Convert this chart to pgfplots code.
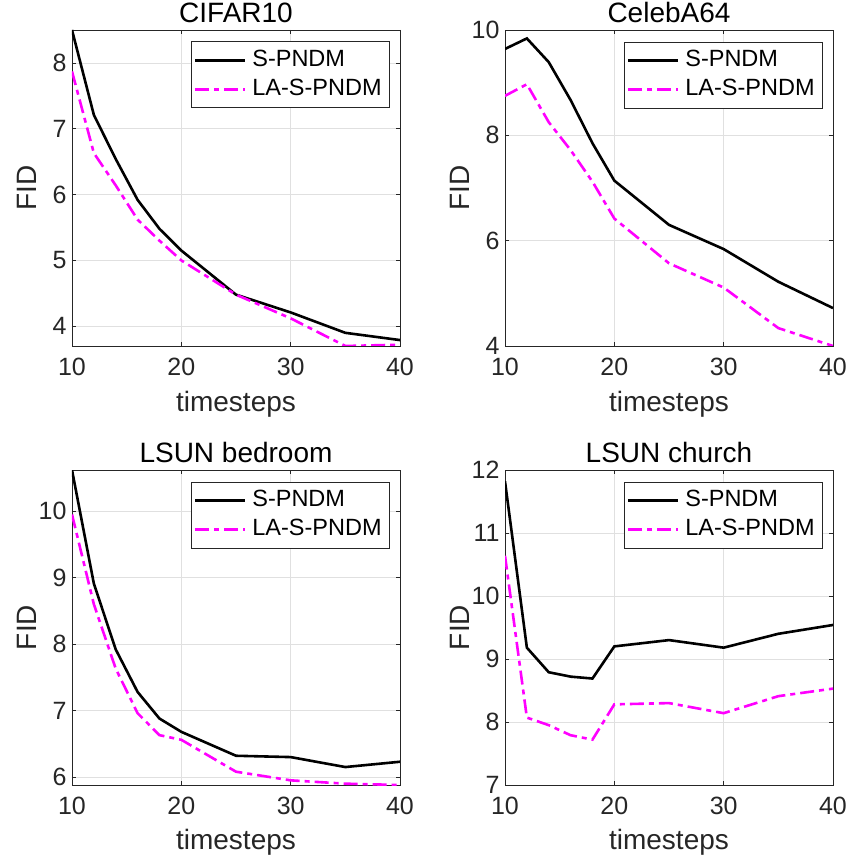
\documentclass[border=0pt]{standalone}
\usepackage{fontspec}
\setmainfont{Liberation Sans}
\usepackage{pgfplots}
\usepackage{pgfplotstable}
\pgfplotsset{compat=1.18}

\definecolor{axgray}{gray}{0.15}
\definecolor{gridgray}{gray}{0.88}
\definecolor{mag}{rgb}{1,0,1}

% timesteps vs FID
\pgfplotstableread{
x   s     la
10  8.50  7.87
12  7.21  6.63
14  6.54  6.14
16  5.92  5.62
18  5.48  5.30
20  5.15  5.00
25  4.48  4.48
30  4.21  4.12
35  3.90  3.70
40  3.79  3.72
}\cifar
\pgfplotstableread{
x   s     la
10  9.64  8.75
12  9.84  8.97
14  9.39  8.25
16  8.67  7.72
18  7.85  7.12
20  7.14  6.42
25  6.30  5.57
30  5.84  5.11
35  5.22  4.34
40  4.72  4.00
}\celeba
\pgfplotstableread{
x   s      la
10  10.62  9.95
12  8.91   8.60
14  7.92   7.63
16  7.28   6.96
18  6.88   6.63
20  6.68   6.56
25  6.32   6.08
30  6.30   5.95
35  6.15   5.90
40  6.23   5.88
}\bedroom
\pgfplotstableread{
x   s      la
10  11.82  10.64
12  9.18   8.07
14  8.79   7.95
16  8.72   7.79
18  8.69   7.72
20  9.20   8.28
25  9.30   8.30
30  9.18   8.14
35  9.40   8.41
40  9.54   8.53
}\church

\pgfplotsset{
  every axis title/.style={at={(axis description cs:0.5,1)}, anchor=base,
    yshift=7.5pt, font=\fontsize{28}{33}\selectfont},
  every axis x label/.style={at={(axis description cs:0.5,-0.206)}, anchor=base,
    font=\fontsize{28}{33}\selectfont, text=axgray},
  every axis y label/.style={at={(axis description cs:-0.137,0.5)}, rotate=90,
    anchor=center, font=\fontsize{28}{33}\selectfont, text=axgray},
  panel/.style={
    scale only axis, width=328pt, height=316pt,
    xmin=10, xmax=40, xtick={10,20,30,40},
    axis line style={axgray, line width=0.8pt},
    tick style={axgray, line width=0.8pt},
    major tick length=4pt, tick align=inside,
    xtick pos=both, ytick pos=both,
    grid=major, grid style={gridgray, line width=0.8pt},
    /pgf/number format/assume math mode=true,
    tick label style={font=\fontsize{25}{30}\selectfont, text=axgray},
    xticklabel style={yshift=-9pt},
    yticklabel style={xshift=-2pt},
    xlabel=timesteps, ylabel=FID,
    legend style={at={(axis description cs:1,1)}, anchor=north east,
      xshift=-10pt, yshift=-11.5pt, draw=axgray, line width=0.8pt, fill=white,
      font=\fontsize{23.5}{28}\selectfont, inner xsep=2pt, inner ysep=4pt,
      nodes={inner xsep=6pt, inner ysep=3pt, text height=17.5pt, text depth=5.5pt}},
    legend cell align=left,
    legend image code/.code={\draw[##1] (0pt,0pt) -- (50pt,0pt);},
  },
  spndm/.style={black, line width=2.6pt, no markers},
  laspndm/.style={mag, line width=2.6pt, no markers,
    dash pattern=on 14pt off 5pt on 5pt off 5pt},
}

\begin{document}
\begin{tikzpicture}
\useasboundingbox (0pt,0pt) rectangle (849pt,863pt);

\begin{axis}[panel, at={(72pt,517pt)}, anchor=south west,
  title={CIFAR10}, ymin=3.7, ymax=8.5, ytick={4,5,6,7,8}]
\addplot[spndm] table[x=x, y=s] {\cifar}; \addlegendentry{S-PNDM}
\addplot[laspndm] table[x=x, y=la] {\cifar}; \addlegendentry{LA-S-PNDM}
\end{axis}

\begin{axis}[panel, at={(505pt,517pt)}, anchor=south west,
  title={CelebA64}, ymin=4, ymax=10, ytick={4,6,8,10}]
\addplot[spndm] table[x=x, y=s] {\celeba}; \addlegendentry{S-PNDM}
\addplot[laspndm] table[x=x, y=la] {\celeba}; \addlegendentry{LA-S-PNDM}
\end{axis}

\begin{axis}[panel, at={(72pt,78pt)}, anchor=south west, height=315pt,
  title={LSUN bedroom}, ymin=5.88, ymax=10.62, ytick={6,7,8,9,10}]
\addplot[spndm] table[x=x, y=s] {\bedroom}; \addlegendentry{S-PNDM}
\addplot[laspndm] table[x=x, y=la] {\bedroom}; \addlegendentry{LA-S-PNDM}
\end{axis}

\begin{axis}[panel, at={(505pt,78pt)}, anchor=south west, height=315pt,
  title={LSUN church}, ymin=7, ymax=12, ytick={7,8,9,10,11,12}]
\addplot[spndm] table[x=x, y=s] {\church}; \addlegendentry{S-PNDM}
\addplot[laspndm] table[x=x, y=la] {\church}; \addlegendentry{LA-S-PNDM}
\end{axis}
\end{tikzpicture}
\end{document}
